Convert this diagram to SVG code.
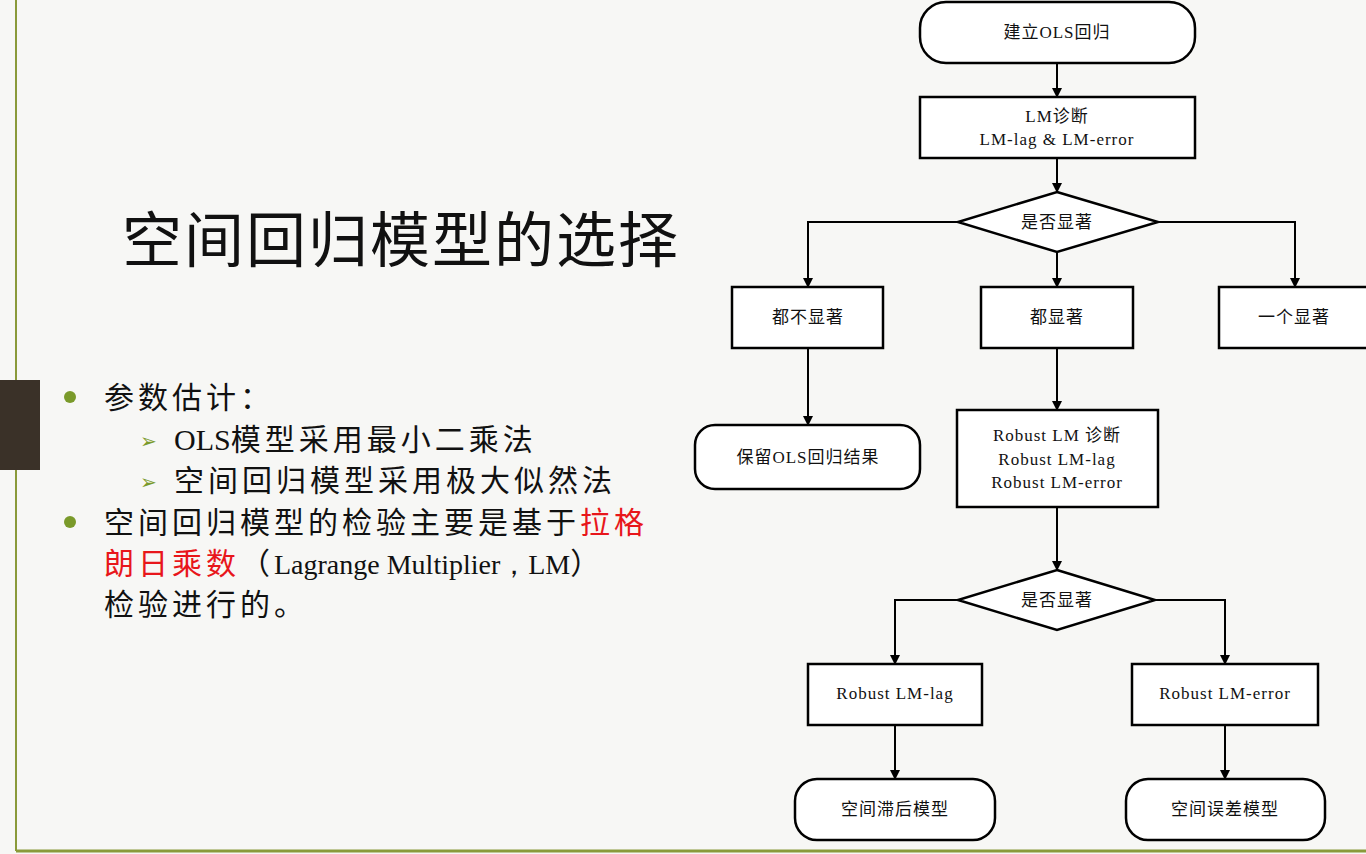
<svg xmlns="http://www.w3.org/2000/svg" width="1366" height="854" viewBox="0 0 1366 854">
<defs>
<marker id="ah" markerWidth="10" markerHeight="10" refX="9" refY="5" orient="auto" markerUnits="userSpaceOnUse"><path d="M0,0 L10,5 L0,10 z" fill="#000"/></marker>
<style>
.n{fill:#fff;stroke:#000;stroke-width:2.5}
.t{font-family:"Liberation Serif","Noto Sans CJK SC",serif;font-size:17px;fill:#111;text-anchor:middle;letter-spacing:1px}
.c{fill:none;stroke:#000;stroke-width:2;marker-end:url(#ah)}
.b{font-family:"Noto Sans CJK SC","Noto Sans",sans-serif;font-size:30px;fill:#111;letter-spacing:4px}
</style>
</defs>
<rect width="1366" height="854" fill="#f7f7f5"/>
<line x1="16" y1="0" x2="16" y2="851" stroke="#8a9a3a" stroke-width="2"/>
<line x1="16" y1="851" x2="1366" y2="851" stroke="#8a9a3a" stroke-width="3"/>
<rect x="0" y="380" width="40" height="90" fill="#3a3128"/>
<text x="122" y="262" font-family="'Noto Sans CJK SC',sans-serif" font-size="60" letter-spacing="2" fill="#111">空间回归模型的选择</text>
<g class="b">
<circle cx="70" cy="397" r="6" fill="#7a9a2a"/>
<text x="104" y="408">参数估计：</text>
<text x="140" y="448" font-size="20" fill="#7a9a2a">➢</text>
<text x="174" y="450"><tspan font-family="Liberation Serif" letter-spacing="0">OLS</tspan>模型采用最小二乘法</text>
<text x="140" y="489" font-size="20" fill="#7a9a2a">➢</text>
<text x="174" y="491">空间回归模型采用极大似然法</text>
<circle cx="70" cy="522" r="6" fill="#7a9a2a"/>
<text x="104" y="533">空间回归模型的检验主要是基于<tspan fill="#e8161b">拉格</tspan></text>
<text x="104" y="574"><tspan fill="#e8161b">朗日乘数</tspan>（<tspan font-family="Liberation Serif" font-size="28" letter-spacing="0">Lagrange Multiplier，LM</tspan>）</text>
<text x="104" y="615">检验进行的。</text>
</g>
<g id="connectors">
<line class="c" x1="1057" y1="63" x2="1057" y2="97"/>
<line class="c" x1="1057" y1="158" x2="1057" y2="192"/>
<polyline class="c" points="958,222 808,222 808,287"/>
<line class="c" x1="1057" y1="252" x2="1057" y2="287"/>
<polyline class="c" points="1158,222 1295,222 1295,287"/>
<line class="c" x1="808" y1="348" x2="808" y2="425"/>
<line class="c" x1="1057" y1="348" x2="1057" y2="410"/>
<line class="c" x1="1057" y1="507" x2="1057" y2="570"/>
<polyline class="c" points="958,600 895,600 895,664"/>
<polyline class="c" points="1155,600 1225,600 1225,664"/>
<line class="c" x1="895" y1="725" x2="895" y2="779"/>
<line class="c" x1="1225" y1="725" x2="1225" y2="779"/>
</g>
<g id="n1"><rect class="n" x="920" y="2" width="275" height="61" rx="26"/><text class="t" x="1057" y="38">建立OLS回归</text></g>
<g id="n2"><rect class="n" x="920" y="97" width="275" height="61"/><text class="t" x="1057" y="122">LM诊断</text><text class="t" x="1057" y="145">LM-lag &amp; LM-error</text></g>
<g id="n3"><polygon class="n" points="1057,192 1158,222 1057,252 958,222"/><text class="t" x="1057" y="228">是否显著</text></g>
<g id="n4"><rect class="n" x="732" y="287" width="151" height="61"/><text class="t" x="808" y="323">都不显著</text></g>
<g id="n5"><rect class="n" x="981" y="287" width="152" height="61"/><text class="t" x="1057" y="323">都显著</text></g>
<g id="n6"><rect class="n" x="1219" y="287" width="150" height="61"/><text class="t" x="1294" y="323">一个显著</text></g>
<g id="n7"><rect class="n" x="695" y="425" width="225" height="64" rx="20"/><text class="t" x="808" y="463">保留OLS回归结果</text></g>
<g id="n8"><rect class="n" x="957" y="410" width="201" height="97"/><text class="t" x="1057" y="441">Robust LM 诊断</text><text class="t" x="1057" y="465">Robust LM-lag</text><text class="t" x="1057" y="488">Robust LM-error</text></g>
<g id="n9"><polygon class="n" points="1057,570 1155,600 1057,630 958,600"/><text class="t" x="1057" y="606">是否显著</text></g>
<g id="n10"><rect class="n" x="808" y="664" width="174" height="61"/><text class="t" x="895" y="699">Robust LM-lag</text></g>
<g id="n11"><rect class="n" x="1132" y="664" width="186" height="61"/><text class="t" x="1225" y="699">Robust LM-error</text></g>
<g id="n12"><rect class="n" x="795" y="779" width="200" height="61" rx="22"/><text class="t" x="895" y="815">空间滞后模型</text></g>
<g id="n13"><rect class="n" x="1126" y="779" width="199" height="61" rx="22"/><text class="t" x="1225" y="815">空间误差模型</text></g>
</svg>
